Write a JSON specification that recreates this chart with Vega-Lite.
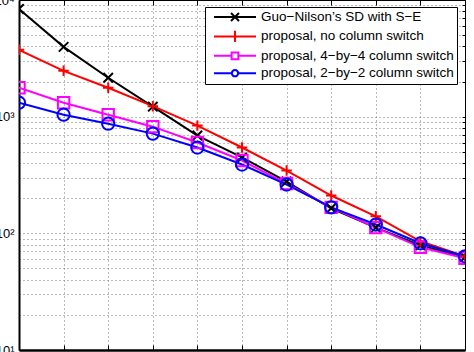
{
  "$schema": "https://vega.github.io/schema/vega-lite/v6.json",
  "width": 446,
  "height": 350,
  "autosize": {"type": "none"},
  "padding": {"left": 19, "top": 0, "right": 9, "bottom": 2},
  "background": "white",
  "config": {
    "view": {"stroke": "black", "strokeWidth": 1},
    "font": "Liberation Sans"
  },
  "data": {
    "values": [
      {"series": "Guo−Nilson’s SD with S−E", "x": 0, "y": 8380},
      {"series": "Guo−Nilson’s SD with S−E", "x": 1, "y": 3965},
      {"series": "Guo−Nilson’s SD with S−E", "x": 2, "y": 2154},
      {"series": "Guo−Nilson’s SD with S−E", "x": 3, "y": 1218},
      {"series": "Guo−Nilson’s SD with S−E", "x": 4, "y": 689},
      {"series": "Guo−Nilson’s SD with S−E", "x": 5, "y": 447},
      {"series": "Guo−Nilson’s SD with S−E", "x": 6, "y": 278},
      {"series": "Guo−Nilson’s SD with S−E", "x": 7, "y": 164},
      {"series": "Guo−Nilson’s SD with S−E", "x": 8, "y": 112},
      {"series": "Guo−Nilson’s SD with S−E", "x": 9, "y": 78.8},
      {"series": "Guo−Nilson’s SD with S−E", "x": 10, "y": 62.4},
      {"series": "proposal, no column switch", "x": 0, "y": 3742},
      {"series": "proposal, no column switch", "x": 1, "y": 2472},
      {"series": "proposal, no column switch", "x": 2, "y": 1770},
      {"series": "proposal, no column switch", "x": 3, "y": 1230},
      {"series": "proposal, no column switch", "x": 4, "y": 838},
      {"series": "proposal, no column switch", "x": 5, "y": 544},
      {"series": "proposal, no column switch", "x": 6, "y": 345},
      {"series": "proposal, no column switch", "x": 7, "y": 211},
      {"series": "proposal, no column switch", "x": 8, "y": 140},
      {"series": "proposal, no column switch", "x": 9, "y": 85.5},
      {"series": "proposal, no column switch", "x": 10, "y": 63.6},
      {"series": "proposal, 4−by−4 column switch", "x": 0, "y": 1770},
      {"series": "proposal, 4−by−4 column switch", "x": 1, "y": 1317},
      {"series": "proposal, 4−by−4 column switch", "x": 2, "y": 1040},
      {"series": "proposal, 4−by−4 column switch", "x": 3, "y": 821},
      {"series": "proposal, 4−by−4 column switch", "x": 4, "y": 600},
      {"series": "proposal, 4−by−4 column switch", "x": 5, "y": 421},
      {"series": "proposal, 4−by−4 column switch", "x": 6, "y": 267},
      {"series": "proposal, 4−by−4 column switch", "x": 7, "y": 167},
      {"series": "proposal, 4−by−4 column switch", "x": 8, "y": 112},
      {"series": "proposal, 4−by−4 column switch", "x": 9, "y": 75.9},
      {"series": "proposal, 4−by−4 column switch", "x": 10, "y": 61.1},
      {"series": "proposal, 2−by−2 column switch", "x": 0, "y": 1317},
      {"series": "proposal, 2−by−2 column switch", "x": 1, "y": 1040},
      {"series": "proposal, 2−by−2 column switch", "x": 2, "y": 871},
      {"series": "proposal, 2−by−2 column switch", "x": 3, "y": 716},
      {"series": "proposal, 2−by−2 column switch", "x": 4, "y": 544},
      {"series": "proposal, 2−by−2 column switch", "x": 5, "y": 389},
      {"series": "proposal, 2−by−2 column switch", "x": 6, "y": 262},
      {"series": "proposal, 2−by−2 column switch", "x": 7, "y": 167},
      {"series": "proposal, 2−by−2 column switch", "x": 8, "y": 119},
      {"series": "proposal, 2−by−2 column switch", "x": 9, "y": 82.2},
      {"series": "proposal, 2−by−2 column switch", "x": 10, "y": 63.6}
    ]
  },
  "layer": [
    {
      "mark": {"type": "line", "strokeWidth": 2, "clip": true},
      "encoding": {
        "x": {
          "field": "x", "type": "quantitative",
          "scale": {"domain": [0, 10], "nice": false, "zero": false},
          "axis": {
            "orient": "bottom", "title": null, "labels": false,
            "values": [0,1,2,3,4,5,6,7,8,9,10],
            "grid": true, "gridColor": "#777", "gridDash": [1, 3], "gridWidth": 1,
            "domainColor": "black", "domainWidth": 2.5,
            "ticks": true, "tickSize": -5, "tickColor": "black", "tickWidth": 1
          }
        },
        "y": {
          "field": "y", "type": "quantitative",
          "scale": {"type": "log", "domain": [10, 10000], "nice": false},
          "axis": {
            "orient": "left", "title": null,
            "values": [10,20,30,40,50,60,70,80,90,100,200,300,400,500,600,700,800,900,1000,2000,3000,4000,5000,6000,7000,8000,9000,10000],
            "labelExpr": "datum.value == 10 ? '10¹' : datum.value == 100 ? '10²' : datum.value == 1000 ? '10³' : datum.value == 10000 ? '10⁴' : ''",
            "labelOverlap": false, "labelBound": false, "labelFlush": false,
            "labelFont": "Liberation Sans", "labelFontSize": 13, "labelColor": "black",
            "labelPadding": 5,
            "grid": true, "gridColor": "#777", "gridDash": [1, 3], "gridWidth": 1,
            "domainColor": "black", "domainWidth": 2,
            "ticks": false
          }
        },
        "color": {
          "field": "series", "type": "nominal",
          "scale": {
            "domain": ["Guo−Nilson’s SD with S−E", "proposal, no column switch", "proposal, 4−by−4 column switch", "proposal, 2−by−2 column switch"],
            "range": ["#000000", "#ff0000", "#ff00ff", "#0000ff"]
          },
          "legend": {
            "orient": "none", "legendX": 186, "legendY": 7,
            "title": null,
            "strokeColor": "black", "fillColor": "white",
            "padding": 3,
            "labelFont": "Liberation Sans", "labelFontSize": 13.5, "labelColor": "black",
            "labelOffset": 8, "labelLimit": 400,
            "symbolSize": 100,
            "rowPadding": 1.4,
            "symbolStrokeWidth": 2,
            "symbolFillColor": "transparent",
            "encode": {
              "symbols": {
                "update": {
                  "shape": {"signal": "datum.index === 0 ? 'M-1,0L1,0M-0.19,-0.19L0.19,0.19M-0.19,0.19L0.19,-0.19' : datum.index === 1 ? 'M-1,0L1,0M0,-0.27L0,0.27' : datum.index === 2 ? 'M-1,0L-0.16,0M0.16,0L1,0M-0.16,-0.16H0.16V0.16H-0.16Z' : 'M-1,0L-0.15,0M0.15,0L1,0M0.15,0A0.15,0.15 0 1,1 -0.15,0A0.15,0.15 0 1,1 0.15,0'"},
                  "size": {"value": 1764},
                  "x": {"value": 27},
                  "y": {"value": 7},
                  "fill": {"value": "transparent"},
                  "strokeWidth": {"value": 2}
                }
              },
              "labels": {
                "update": {
                  "x": {"value": 53},
                  "y": {"value": 7}
                }
              }
            }
          }
        }
      }
    },
    {
      "mark": {"type": "point", "filled": false, "strokeWidth": 2, "opacity": 1, "clip": true},
      "encoding": {
        "x": {
          "field": "x", "type": "quantitative",
          "axis": {
            "orient": "top", "title": null, "labels": false, "grid": false,
            "values": [0,1,2,3,4,5,6,7,8,9,10],
            "domainColor": "black", "domainWidth": 1,
            "ticks": true, "tickSize": -5, "tickColor": "black", "tickWidth": 1
          }
        },
        "y": {
          "field": "y", "type": "quantitative",
          "axis": {
            "orient": "right", "title": null, "labels": false, "grid": false,
            "values": [10,20,30,40,50,60,70,80,90,100,200,300,400,500,600,700,800,900,1000,2000,3000,4000,5000,6000,7000,8000,9000,10000],
            "domainColor": "black", "domainWidth": 1,
            "ticks": true, "tickSize": -3, "tickColor": "black", "tickWidth": 1
          }
        },
        "color": {"field": "series", "type": "nominal", "legend": null},
        "shape": {
          "field": "series", "type": "nominal", "legend": null,
          "scale": {
            "domain": ["Guo−Nilson’s SD with S−E", "proposal, no column switch", "proposal, 4−by−4 column switch", "proposal, 2−by−2 column switch"],
            "range": ["M-1,-1L1,1M-1,1L1,-1", "M-1,0L1,0M0,-1L0,1", "M-1,-1H1V1H-1Z", "circle"]
          }
        },
        "size": {
          "field": "series", "type": "nominal", "legend": null,
          "scale": {
            "domain": ["Guo−Nilson’s SD with S−E", "proposal, no column switch", "proposal, 4−by−4 column switch", "proposal, 2−by−2 column switch"],
            "range": [90, 150, 90, 110]
          }
        }
      }
    }
  ],
  "resolve": {
    "axis": {"x": "independent", "y": "independent"},
    "legend": {"color": "independent", "shape": "independent", "size": "independent"}
  }
}
